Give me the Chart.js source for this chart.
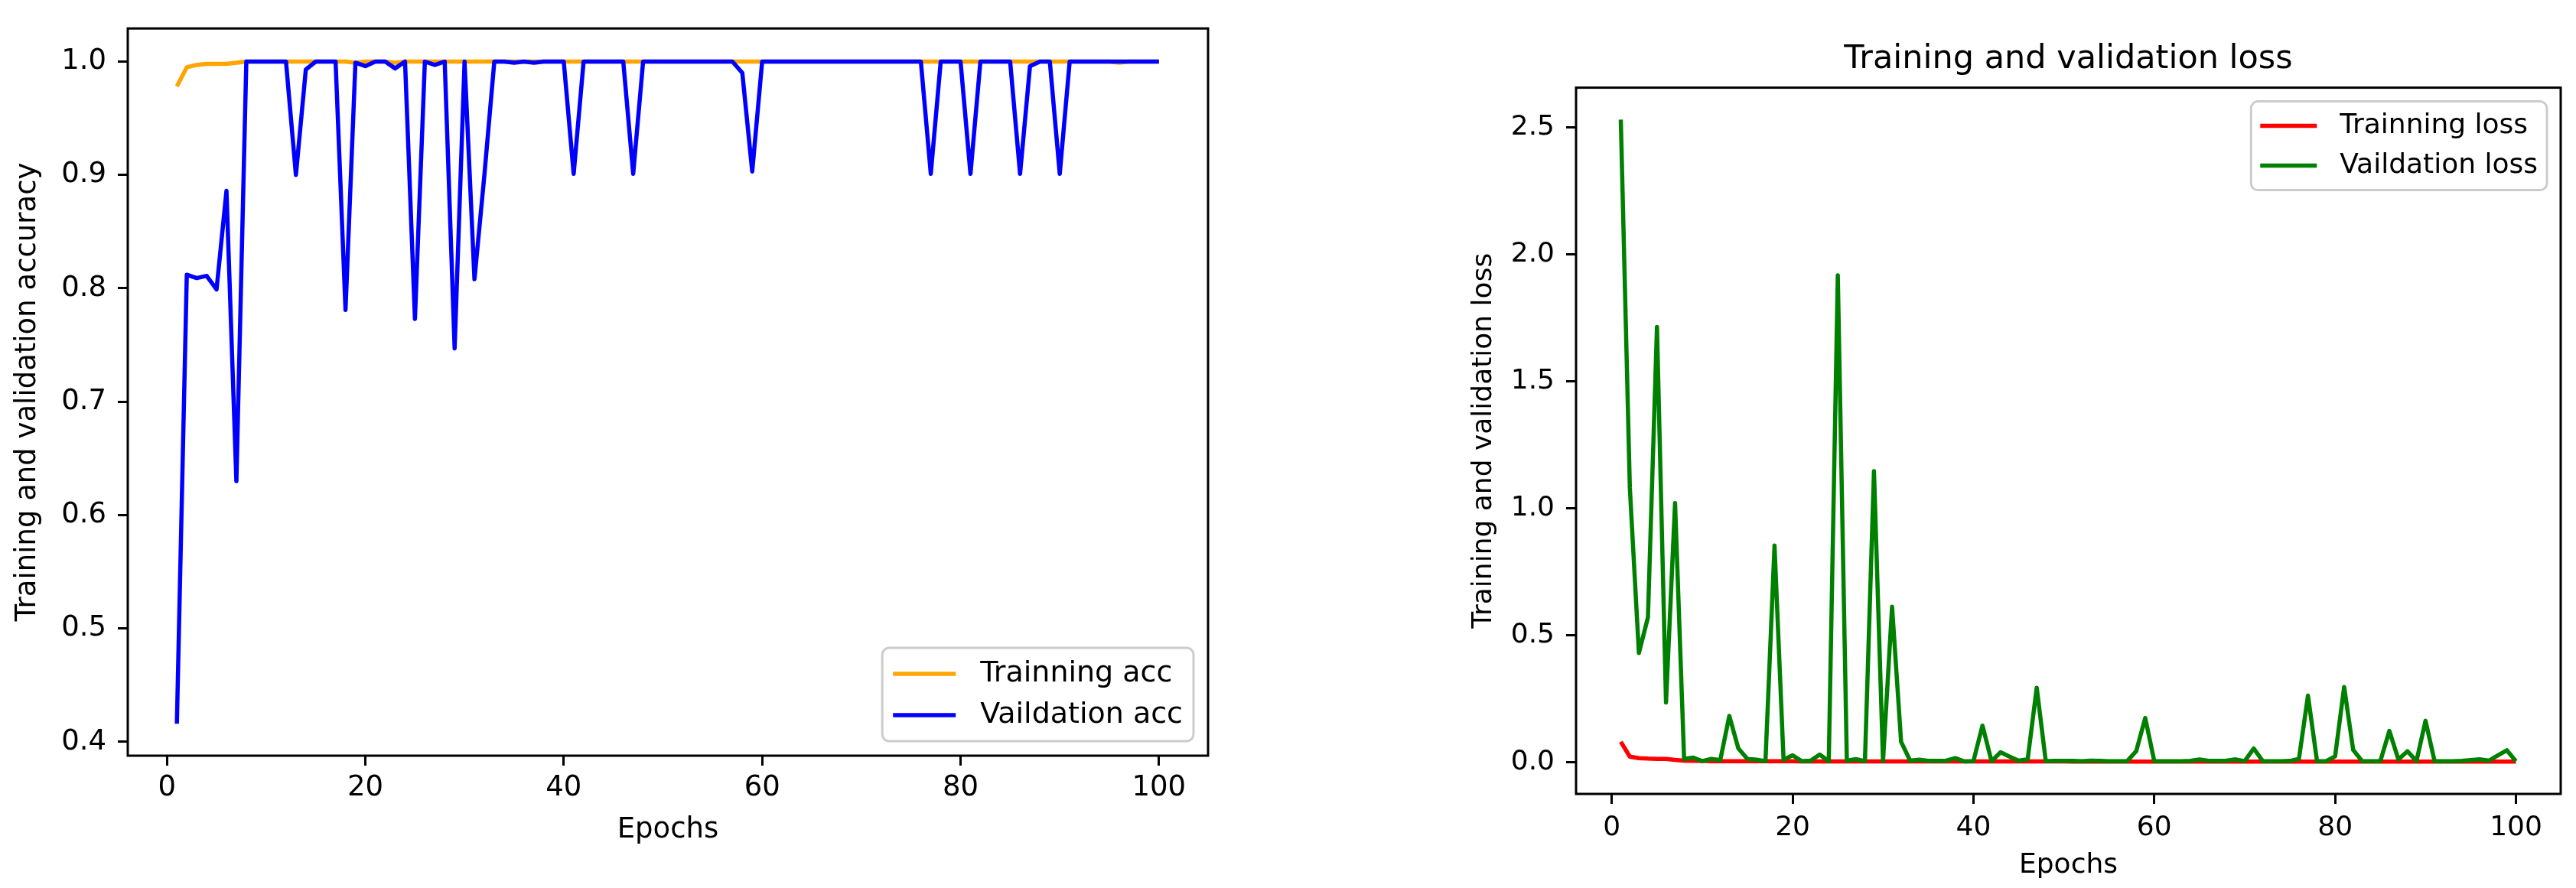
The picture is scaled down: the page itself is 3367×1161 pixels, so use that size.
<!DOCTYPE html>
<html>
<head>
<meta charset="utf-8">
<script src="https://cdn.jsdelivr.net/npm/chart.js@4.4.1/dist/chart.umd.min.js"></script>
<style>
  html, body { margin: 0; padding: 0; background: #fff; }
  body { width: 3367px; height: 1161px; position: relative; overflow: hidden; }
  canvas { position: absolute; top: 0; }
  #accChart { left: 0; }
  #lossChart { left: 1683px; }
</style>
</head>
<body>
<canvas id="accChart" width="1683" height="1161"></canvas>
<canvas id="lossChart" width="1684" height="1161"></canvas>
<script>
// epochs on the x axis
const epochs = [
  1, 2, 3, 4, 5, 6, 7, 8, 9, 10, 11, 12, 13, 14, 15, 16, 17, 18, 19, 20,
  21, 22, 23, 24, 25, 26, 27, 28, 29, 30, 31, 32, 33, 34, 35, 36, 37, 38, 39, 40,
  41, 42, 43, 44, 45, 46, 47, 48, 49, 50, 51, 52, 53, 54, 55, 56, 57, 58, 59, 60,
  61, 62, 63, 64, 65, 66, 67, 68, 69, 70, 71, 72, 73, 74, 75, 76, 77, 78, 79, 80,
  81, 82, 83, 84, 85, 86, 87, 88, 89, 90, 91, 92, 93, 94, 95, 96, 97, 98, 99, 100
];

const trainAcc = [
  0.978, 0.995, 0.997, 0.998, 0.998, 0.998, 0.999, 1.000, 1.000, 1.000, 1.000, 1.000, 1.000, 1.000, 1.000, 1.000, 1.000, 1.000, 0.999, 1.000,
  1.000, 1.000, 0.999, 1.000, 1.000, 1.000, 1.000, 1.000, 1.000, 1.000, 1.000, 1.000, 1.000, 1.000, 1.000, 1.000, 1.000, 1.000, 1.000, 1.000,
  1.000, 1.000, 1.000, 1.000, 1.000, 1.000, 1.000, 1.000, 1.000, 1.000, 1.000, 1.000, 1.000, 1.000, 1.000, 1.000, 1.000, 1.000, 1.000, 1.000,
  1.000, 1.000, 1.000, 1.000, 1.000, 1.000, 1.000, 1.000, 1.000, 1.000, 1.000, 1.000, 1.000, 1.000, 1.000, 1.000, 1.000, 1.000, 1.000, 1.000,
  1.000, 1.000, 1.000, 1.000, 1.000, 1.000, 1.000, 1.000, 1.000, 1.000, 1.000, 1.000, 1.000, 1.000, 1.000, 0.999, 1.000, 1.000, 1.000, 1.000
];

const valAcc = [
  0.416, 0.812, 0.809, 0.811, 0.799, 0.886, 0.630, 1.000, 1.000, 1.000, 1.000, 1.000, 0.900, 0.993, 1.000, 1.000, 1.000, 0.781, 0.999, 0.996,
  1.000, 1.000, 0.994, 1.000, 0.773, 1.000, 0.997, 1.000, 0.747, 1.000, 0.808, 0.900, 1.000, 1.000, 0.999, 1.000, 0.999, 1.000, 1.000, 1.000,
  0.901, 1.000, 1.000, 1.000, 1.000, 1.000, 0.901, 1.000, 1.000, 1.000, 1.000, 1.000, 1.000, 1.000, 1.000, 1.000, 1.000, 0.990, 0.903, 1.000,
  1.000, 1.000, 1.000, 1.000, 1.000, 1.000, 1.000, 1.000, 1.000, 1.000, 1.000, 1.000, 1.000, 1.000, 1.000, 1.000, 0.901, 1.000, 1.000, 1.000,
  0.901, 1.000, 1.000, 1.000, 1.000, 0.901, 0.996, 1.000, 1.000, 0.901, 1.000, 1.000, 1.000, 1.000, 1.000, 1.000, 1.000, 1.000, 1.000, 1.000
];

const trainLoss = [
  0.080, 0.022, 0.016, 0.014, 0.013, 0.013, 0.009, 0.006, 0.005, 0.005, 0.004, 0.004, 0.004, 0.004, 0.004, 0.004, 0.004, 0.004, 0.004, 0.004,
  0.003, 0.003, 0.003, 0.003, 0.003, 0.003, 0.003, 0.003, 0.003, 0.003, 0.003, 0.003, 0.003, 0.003, 0.003, 0.003, 0.003, 0.003, 0.003, 0.003,
  0.003, 0.003, 0.003, 0.003, 0.003, 0.003, 0.003, 0.003, 0.003, 0.003, 0.002, 0.002, 0.002, 0.002, 0.002, 0.002, 0.002, 0.002, 0.002, 0.002,
  0.002, 0.002, 0.002, 0.002, 0.002, 0.002, 0.002, 0.002, 0.002, 0.002, 0.002, 0.002, 0.002, 0.002, 0.002, 0.002, 0.002, 0.002, 0.002, 0.002,
  0.002, 0.002, 0.002, 0.002, 0.002, 0.002, 0.002, 0.002, 0.002, 0.002, 0.002, 0.002, 0.002, 0.002, 0.002, 0.002, 0.002, 0.002, 0.002, 0.002
];

const valLoss = [
  2.530, 1.080, 0.430, 0.570, 1.714, 0.235, 1.020, 0.013, 0.018, 0.004, 0.013, 0.008, 0.182, 0.054, 0.013, 0.010, 0.004, 0.853, 0.010, 0.027,
  0.004, 0.006, 0.030, 0.004, 1.917, 0.006, 0.012, 0.004, 1.146, 0.004, 0.612, 0.080, 0.006, 0.010, 0.005, 0.005, 0.006, 0.016, 0.003, 0.004,
  0.144, 0.004, 0.039, 0.022, 0.006, 0.011, 0.293, 0.004, 0.005, 0.005, 0.005, 0.004, 0.006, 0.005, 0.004, 0.004, 0.004, 0.043, 0.174, 0.004,
  0.004, 0.004, 0.004, 0.005, 0.011, 0.005, 0.005, 0.006, 0.011, 0.004, 0.054, 0.004, 0.004, 0.004, 0.005, 0.013, 0.262, 0.004, 0.004, 0.023,
  0.296, 0.048, 0.004, 0.004, 0.004, 0.123, 0.011, 0.043, 0.004, 0.163, 0.004, 0.004, 0.004, 0.005, 0.008, 0.011, 0.006, 0.027, 0.047, 0.004
];

// tick labels
const epochTicks = [0, 20, 40, 60, 80, 100];
const accTicks = [0.4, 0.5, 0.6, 0.7, 0.8, 0.9, 1.0];
const lossTicks = [0.0, 0.5, 1.0, 1.5, 2.0, 2.5];

const FONT = '"DejaVu Sans", "Liberation Sans", sans-serif';
Chart.defaults.font.family = FONT;
Chart.defaults.color = '#000';

function points(ys) {
  return epochs.map((x, i) => ({ x: x, y: ys[i] }));
}

// order: lower number is painted last, so validation sits on top like in matplotlib
function line(label, ys, color, order) {
  return {
    label: label,
    data: points(ys),
    order: order,
    borderColor: color,
    backgroundColor: color,
    borderWidth: 5.5,
    borderJoinStyle: 'round',
    pointRadius: 0,
    tension: 0,
    fill: false
  };
}

// black box around the plot area, like matplotlib spines
const frame = {
  id: 'frame',
  afterDatasetsDraw(chart) {
    const { ctx, chartArea: a } = chart;
    ctx.save();
    ctx.strokeStyle = '#000';
    ctx.lineWidth = 3;
    ctx.strokeRect(a.left, a.top, a.right - a.left, a.bottom - a.top);
    ctx.restore();
  }
};

// legend drawn inside the plot area
const boxLegend = {
  id: 'boxLegend',
  afterDraw(chart, args, o) {
    const { ctx, chartArea: a } = chart;
    const items = chart.data.datasets;
    ctx.save();
    ctx.font = o.size + 'px ' + FONT;
    const textW = Math.max(...items.map(d => ctx.measureText(d.label).width));
    const w = o.inner + o.handle + o.gap + textW + o.inner;
    const h = items.length * o.row + 2 * o.padY;
    const x = a.right - o.pad - w;
    const y = o.corner === 'upper' ? a.top + o.pad : a.bottom - o.pad - h;
    ctx.beginPath();
    if (ctx.roundRect) ctx.roundRect(x, y, w, h, 9); else ctx.rect(x, y, w, h);
    ctx.fillStyle = 'rgba(255,255,255,0.8)';
    ctx.fill();
    ctx.strokeStyle = '#cccccc';
    ctx.lineWidth = 3;
    ctx.stroke();
    items.forEach((d, i) => {
      const cy = y + o.padY + o.row * (i + 0.5);
      ctx.beginPath();
      ctx.moveTo(x + o.inner, cy);
      ctx.lineTo(x + o.inner + o.handle, cy);
      ctx.strokeStyle = d.borderColor;
      ctx.lineWidth = d.borderWidth;
      ctx.stroke();
      ctx.fillStyle = '#000';
      ctx.textBaseline = 'middle';
      ctx.textAlign = 'left';
      ctx.fillText(d.label, x + o.inner + o.handle + o.gap, cy);
    });
    ctx.restore();
  }
};

function tickGrid() {
  return {
    display: true,
    drawOnChartArea: false,
    drawTicks: true,
    tickLength: 13,
    tickWidth: 3,
    tickColor: '#000'
  };
}

function xAxis(cfg) {
  return {
    type: 'linear',
    min: -3.95,
    max: 104.95,
    afterBuildTicks: s => { s.ticks = epochTicks.map(v => ({ value: v })); },
    afterFit: s => { s.height = cfg.height; },
    ticks: { font: { size: cfg.size }, padding: cfg.tickPad, maxRotation: 0, callback: v => String(v) },
    grid: tickGrid(),
    border: { display: false },
    title: { display: true, text: 'Epochs', font: { size: cfg.size }, padding: { top: 0, bottom: cfg.titlePad } }
  };
}

function yAxis(cfg) {
  return {
    type: 'linear',
    min: cfg.min,
    max: cfg.max,
    afterBuildTicks: s => { s.ticks = cfg.ticks.map(v => ({ value: v })); },
    afterFit: s => { s.width = cfg.width; },
    ticks: { font: { size: cfg.size }, padding: 15, callback: v => Number(v).toFixed(1) },
    grid: tickGrid(),
    border: { display: false },
    title: { display: true, text: cfg.title, font: { size: cfg.size }, padding: { top: cfg.titlePad, bottom: 0 } }
  };
}

new Chart(document.getElementById('accChart'), {
  type: 'line',
  data: {
    datasets: [
      line('Trainning acc', trainAcc, '#FFA500', 1),
      line('Vaildation acc', valAcc, '#0000FF', 0)
    ]
  },
  options: {
    responsive: false,
    animation: false,
    devicePixelRatio: 1,
    layout: { padding: { left: 0, top: 20, right: 104, bottom: 0 } },
    scales: {
      x: xAxis({ height: 173, size: 37, tickPad: 7, titlePad: 53 }),
      y: yAxis({ min: 0.3878, max: 1.0292, ticks: accTicks, width: 167, size: 37,
                 title: 'Training and validation accuracy', titlePad: 14 })
    },
    plugins: {
      legend: { display: false },
      tooltip: { enabled: false },
      boxLegend: { corner: 'lower', pad: 19, size: 38, row: 54, padY: 7, inner: 14, handle: 82, gap: 32 }
    }
  },
  plugins: [frame, boxLegend]
});

new Chart(document.getElementById('lossChart'), {
  type: 'line',
  data: {
    datasets: [
      line('Trainning loss', trainLoss, '#FF0000', 1),
      line('Vaildation loss', valLoss, '#008000', 0)
    ]
  },
  options: {
    responsive: false,
    animation: false,
    devicePixelRatio: 1,
    layout: { padding: { left: 0, top: 0, right: 20, bottom: 0 } },
    scales: {
      x: xAxis({ height: 123, size: 36, tickPad: 10, titlePad: 8 }),
      y: yAxis({ min: -0.125, max: 2.656, ticks: lossTicks, width: 377, size: 36,
                 title: 'Training and validation loss', titlePad: 235 })
    },
    plugins: {
      legend: { display: false },
      tooltip: { enabled: false },
      title: {
        display: true,
        fullSize: false,
        text: 'Training and validation loss',
        font: { size: 43, weight: 'normal' },
        color: '#000',
        padding: { top: 52, bottom: 11 }
      },
      boxLegend: { corner: 'upper', pad: 18, size: 36, row: 52, padY: 6, inner: 12, handle: 74, gap: 30 }
    }
  },
  plugins: [frame, boxLegend]
});
</script>
</body>
</html>
